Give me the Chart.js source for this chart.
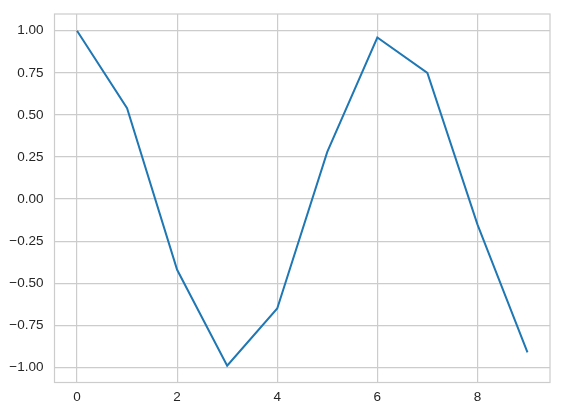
<!DOCTYPE html>
<html>
<head>
<meta charset="utf-8">
<script src="https://cdn.jsdelivr.net/npm/chart.js@4"></script>
<style>
  html, body { margin: 0; padding: 0; background: #fff; overflow: hidden; }
  #wrap { width: 564px; height: 408px; }
</style>
</head>
<body>
<div id="wrap"><canvas id="myChart"></canvas></div>
<script>
// values
const xs = [0, 1, 2, 3, 4, 5, 6, 7, 8, 9];
const ys = [1.00, 0.54, -0.42, -0.99, -0.65, 0.28, 0.96, 0.75, -0.15, -0.91];
const x_ticks = [0, 2, 4, 6, 8];
const y_ticks = [-1.00, -0.75, -0.50, -0.25, 0.00, 0.25, 0.50, 0.75, 1.00];

const grid_color = "#cccccc";
const text_color = "#262626";
const font = { family: "'Liberation Sans', Arial, sans-serif", size: 13.5 };

// frame around the plot, like the matplotlib spines
const frame = {
    id: "frame",
    afterDraw(chart){
        const a = chart.chartArea, ctx = chart.ctx;
        ctx.save();
        ctx.strokeStyle = grid_color;
        ctx.lineWidth = 1.2;
        ctx.strokeRect(a.left, a.top, a.right - a.left, a.bottom - a.top);
        ctx.restore();
    }
};

const ctx = document.getElementById('myChart').getContext('2d');
new Chart(ctx, {
    type: 'line',
    data: {
        datasets: [{
            data: xs.map((x, i) => ({ x: x, y: ys[i] })),
            borderColor: "#1f77b4",
            borderWidth: 2,
            pointRadius: 0,
            tension: 0,
            fill: false
        }]
    },
    options: {
        responsive: true,
        maintainAspectRatio: false,
        animation: false,
        layout: { padding: { top: 14, right: 14, left: 0, bottom: 0 } },
        plugins: { legend: { display: false }, tooltip: { enabled: false } },
        scales: {
            x: {
                type: 'linear',
                min: -0.45,
                max: 9.45,
                afterBuildTicks: s => { s.ticks = x_ticks.map(v => ({ value: v })); },
                afterFit: s => { s.height = 25.5; s.paddingLeft = 0; s.paddingRight = 0; },
                grid: { color: grid_color, lineWidth: 1.2, drawTicks: false },
                border: { display: false },
                ticks: { color: text_color, font: font, padding: 7, maxRotation: 0,
                         callback: v => String(v) }
            },
            y: {
                type: 'linear',
                min: -1.0895,
                max: 1.0995,
                afterBuildTicks: s => { s.ticks = y_ticks.map(v => ({ value: v })); },
                afterFit: s => { s.width = 54.5; s.paddingTop = 0; s.paddingBottom = 0; },
                grid: { color: grid_color, lineWidth: 1.2, drawTicks: false },
                border: { display: false },
                ticks: { color: text_color, font: font, padding: 11,
                         callback: v => (v < 0 ? "\u2212" : "") + Math.abs(v).toFixed(2) }
            }
        }
    },
    plugins: [frame]
});
</script>
</body>
</html>
